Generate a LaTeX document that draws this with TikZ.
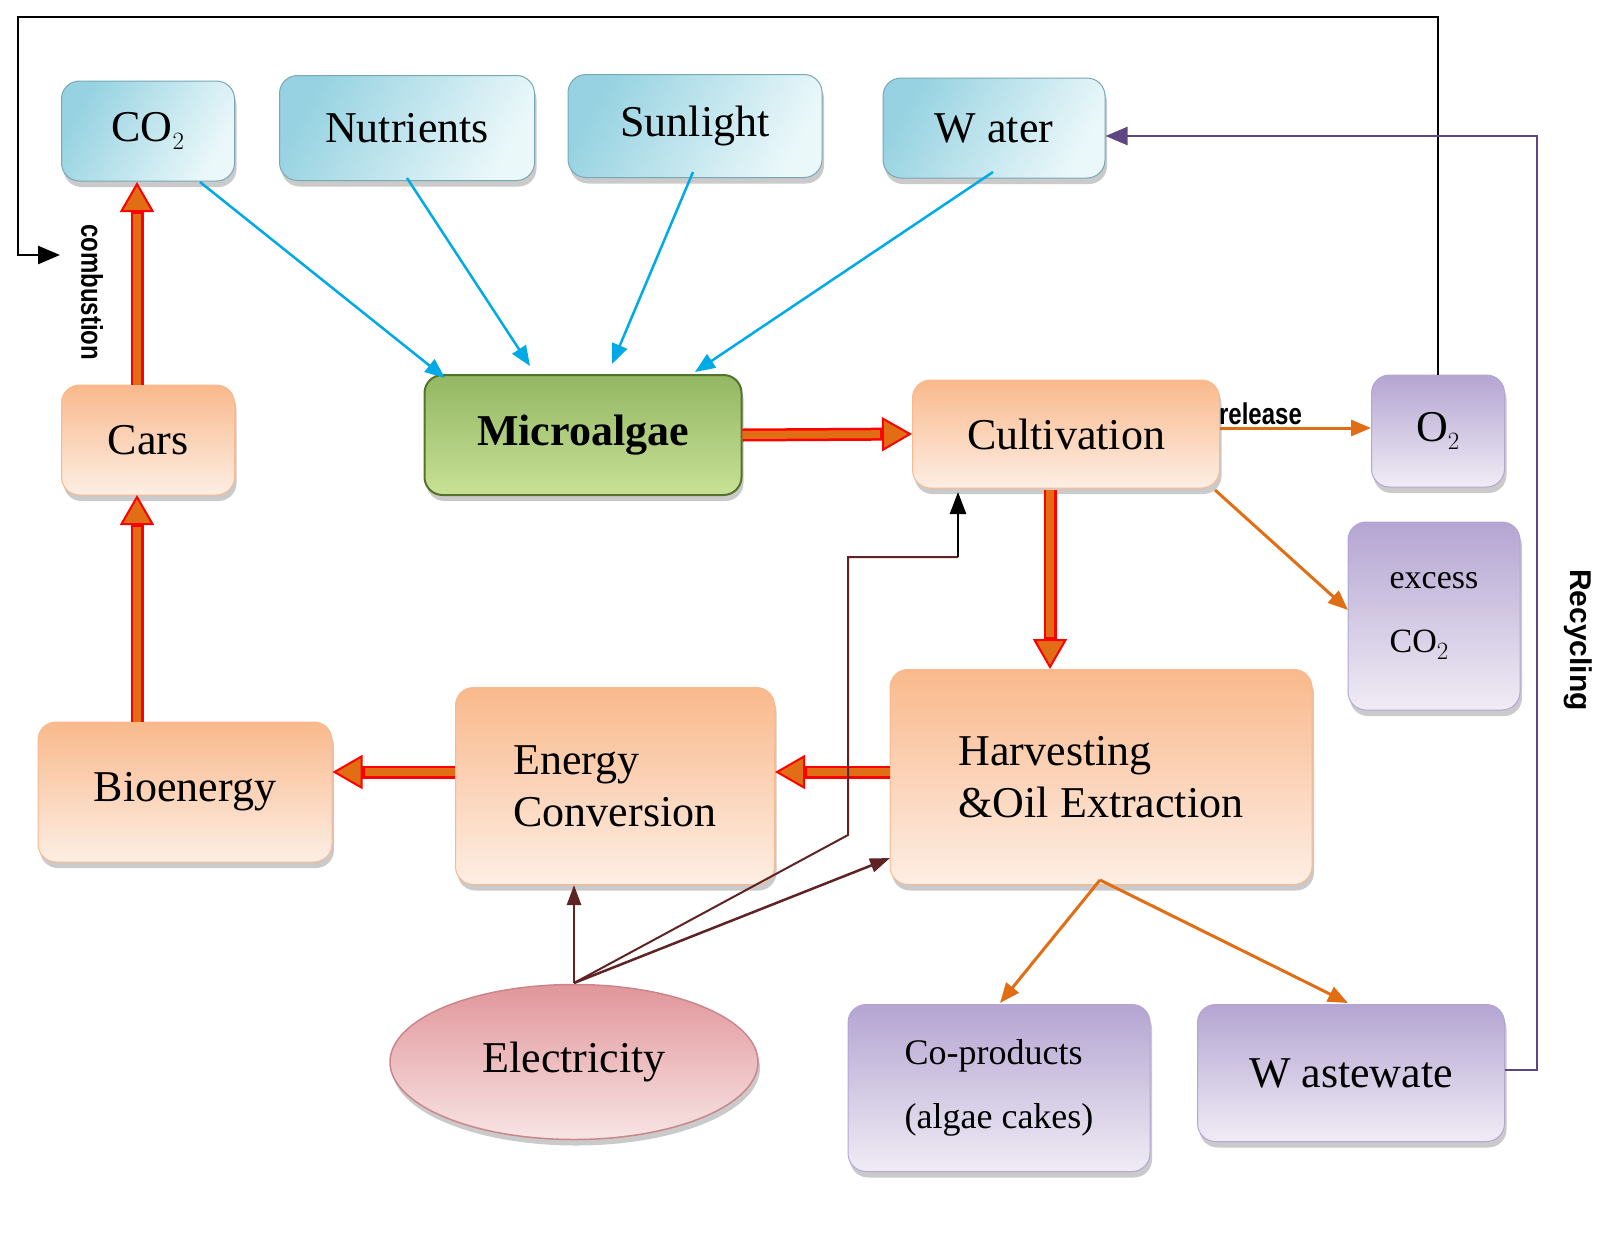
\documentclass[tikz,border=0pt]{standalone}
\usepackage{fontspec}
\setmainfont{Liberation Serif}
\newfontfamily\cond{Liberation Sans}
\usetikzlibrary{arrows.meta,shadows,shapes.geometric,calc}
\definecolor{blueA}{RGB}{150,210,225}
\definecolor{blueB}{RGB}{235,248,250}
\definecolor{orA}{RGB}{249,185,140}
\definecolor{orB}{RGB}{253,238,228}
\definecolor{puA}{RGB}{180,165,210}
\definecolor{puB}{RGB}{240,236,245}
\definecolor{grA}{RGB}{120,165,60}
\definecolor{grB}{RGB}{200,225,150}
\definecolor{elA}{RGB}{225,150,155}
\definecolor{elB}{RGB}{248,228,228}
\definecolor{arrO}{RGB}{225,110,20}
\definecolor{brn}{RGB}{95,35,35}
\definecolor{pline}{RGB}{95,70,130}
\tikzset{
 box/.style={rounded corners=18pt, inner sep=0pt, font=\fontsize{44}{52}\selectfont,
   drop shadow={shadow xshift=2pt,shadow yshift=-6pt,fill=black!35,opacity=0.6}},
 bl/.style={box, left color=blueA, right color=blueB, shading angle=60, draw=blueA!80!black, line width=1pt},
 orb/.style={box, shade, shading angle=135, top color=orA, bottom color=orB, draw=orA, line width=1pt},
 pub/.style={box, shade, shading angle=135, top color=puA, bottom color=puB, draw=puA, line width=1pt},
 bluearr/.style={draw={rgb,255:red,0;green,170;blue,230}, line width=2.5pt, -{Triangle[length=20pt,width=16pt]}},
 orarr/.style={draw=arrO, line width=3pt, -{Triangle[length=20pt,width=16pt]}},
 brarr/.style={draw=brn, line width=2.5pt, -{Triangle[length=20pt,width=14pt]}},
 lbl/.style={font=\cond\bfseries\fontsize{30}{32}\selectfont},
}
\newcommand{\bigarr}[2]{%
 \draw[red, line width=13pt, -{Triangle[length=30pt,width=34pt,fill=arrO,line width=2pt]}] (#1) -- (#2);
 \draw[arrO, line width=8pt, shorten >=32pt] (#1) -- (#2);}
\begin{document}
\begin{tikzpicture}[x=1pt,y=-1pt]
\useasboundingbox (0,0) rectangle (1607,1243);
\node[bl, minimum width=173pt, minimum height=100pt] (co2) at (148,131) {CO$_2$};
\node[bl, minimum width=255pt, minimum height=105pt] (nut) at (407,128) {Nutrients};
\node[bl, minimum width=254pt, minimum height=103pt] (sun) at (695,126) {Sunlight};
\node[bl, minimum width=222pt, minimum height=100pt] (wat) at (994,128) {W ater};
\node[orb, minimum width=173pt, minimum height=110pt] (cars) at (148,440) {Cars};
\node[box, shade, top color=grA!80, bottom color=grB, draw=grA!70!black, line width=2pt, minimum width=317pt, minimum height=120pt, font=\bfseries\fontsize{44}{52}\selectfont] (mic) at (583,435) {Microalgae};
\node[orb, minimum width=307pt, minimum height=108pt] (cult) at (1066,434) {Cultivation};
\node[pub, minimum width=133pt, minimum height=112pt] (o2) at (1438,431) {O$_2$};
\node[pub, minimum width=172pt, minimum height=188pt, font=\fontsize{34}{64}\selectfont, align=left] (exc) at (1434,616) {excess\\CO$_2$};
\node[orb, minimum width=294pt, minimum height=140pt] (bio) at (185,792) {Bioenergy};
\node[orb, minimum width=319pt, minimum height=197pt, align=left] (ec) at (615,786) {Energy\\Conversion};
\node[orb, minimum width=422pt, minimum height=215pt, align=left] (har) at (1101,777) {Harvesting\\\&Oil Extraction};
\node[ellipse, shade, top color=elA, bottom color=elB, draw=elA!90!black, line width=1.5pt, minimum width=368pt, minimum height=155pt, font=\fontsize{44}{52}\selectfont, drop shadow={shadow xshift=2pt,shadow yshift=-6pt,fill=black!35,opacity=0.6}] (ele) at (574,1062) {Electricity};
\node[pub, minimum width=302pt, minimum height=167pt, align=left, font=\fontsize{36}{64}\selectfont] (cop) at (999,1088) {Co-products\\(algae cakes)};
\node[pub, minimum width=307pt, minimum height=137pt] (ww) at (1351,1073) {W astewate};

\draw[bluearr] (200,182) -- (445,378);
\draw[bluearr] (407,178) -- (530,366);
\draw[bluearr] (693,172) -- (612,364);
\draw[bluearr] (993,172) -- (695,372);

\bigarr{mic.east}{cult.west}
\bigarr{1050,490}{har.north -| 1050,0}
\bigarr{har.west |- 0,772}{ec.east |- 0,772}
\bigarr{ec.west |- 0,772}{bio.east |- 0,772}
\bigarr{137,722}{137,495}
\bigarr{137,385}{137,182}

\coordinate (cb) at (60,255);
\draw[black, line width=2.5pt, -{Triangle[length=22pt,width=18pt]}] (o2.north) -- (1438,17) -- (18,17) -- (18,255) -- (cb);
\node[lbl, rotate=-90, xscale=0.8] at (92,292) {combustion};

\draw[orarr] (cult.east |- 0,428) -- (o2.west |- 0,428) node[lbl, midway, above=-2pt, xshift=-35pt, xscale=0.8] {release};
\draw[orarr] (1215,490) -- (1348,610);
\draw[orarr] (1100,880) -- (1000,1003);
\draw[orarr] (1100,880) -- (1348,1003);

\draw[pline, line width=2.5pt, -{Triangle[length=22pt,width=18pt]}] (ww.east |- 0,1070) -- (1537,1070) -- (1537,136) -- (wat.east |- 0,136);
\node[lbl, rotate=-90] at (1578,640) {Recycling};

\coordinate (et) at (574,983);
\draw[brarr] (et) -- (ec.south -| 574,0);
\draw[brarr] (et) -- (890,858);
\draw[brn, line width=2pt] (et) -- (848,835) -- (848,557) -- (958,557);
\draw[black, line width=2.5pt, -{Triangle[length=22pt,width=16pt]}] (958,557) -- (958,492);
\end{tikzpicture}
\end{document}
